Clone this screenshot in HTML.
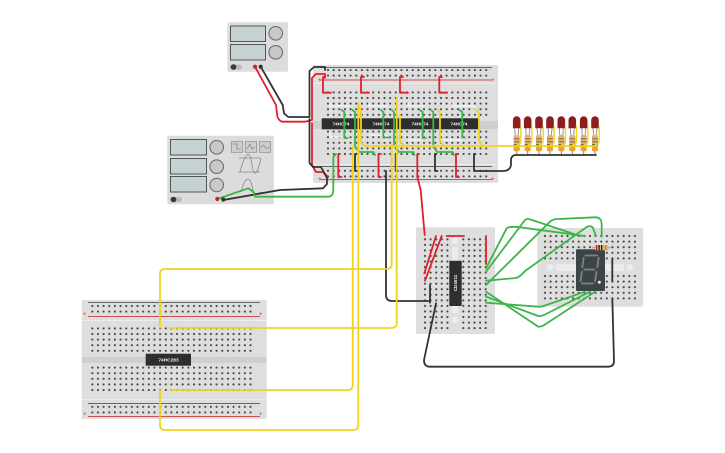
<!DOCTYPE html>
<html><head><meta charset="utf-8"><style>
html,body{margin:0;padding:0;background:#fff;width:725px;height:453px;overflow:hidden}
svg{display:block}
.w{fill:none;stroke-linejoin:round;stroke-linecap:round;stroke-width:1.8}
.r{stroke:#e0202a}.k{stroke:#333}.g{stroke:#3cb54a}.y{stroke:#f2d21b}.v{stroke:#f6f6f6;stroke-width:1.3}
.t{font-family:"Liberation Sans",sans-serif;fill:#eee;font-weight:bold;text-anchor:middle}
</style></head><body>
<svg width="725" height="453" viewBox="0 0 725 453" xmlns="http://www.w3.org/2000/svg">
<defs>
<pattern id="dm" x="325.2" y="67.2" width="5.65" height="5.6" patternUnits="userSpaceOnUse"><circle cx="2.8" cy="2.8" r="1.1" fill="#454545"/></pattern>
<pattern id="db" x="89.5" y="303.2" width="5.65" height="5.6" patternUnits="userSpaceOnUse"><circle cx="2.8" cy="2.8" r="1.1" fill="#454545"/></pattern>
<pattern id="da" x="422.2" y="236.5" width="5.6" height="5.55" patternUnits="userSpaceOnUse"><circle cx="2.8" cy="2.8" r="1.1" fill="#454545"/></pattern>
<pattern id="dc" x="460.5" y="236.5" width="5.6" height="5.55" patternUnits="userSpaceOnUse"><circle cx="2.8" cy="2.8" r="1.1" fill="#454545"/></pattern>
<pattern id="de" x="542.2" y="233.2" width="5.62" height="5.6" patternUnits="userSpaceOnUse"><circle cx="2.8" cy="2.8" r="1.1" fill="#454545"/></pattern>
<pattern id="df" x="542.2" y="273.2" width="5.62" height="5.6" patternUnits="userSpaceOnUse"><circle cx="2.8" cy="2.8" r="1.1" fill="#454545"/></pattern>
<symbol id="led" overflow="visible">
<path d="M-2 12L-1.5 19M2 12L1.5 19" stroke="#888" stroke-width=".9" fill="none"/>
<path d="M-3.8 12.2V4a3.8 3.8 0 0 1 7.6 0V12.2Z" fill="#8e1d20"/>
<rect x="-3" y="19" width="6" height="16" rx="1.8" fill="#d6b67a"/>
<rect x="-3" y="22" width="6" height="1.4" fill="#b5774a"/>
<rect x="-3" y="25" width="6" height="1.4" fill="#b5774a"/>
<rect x="-3" y="28.5" width="6" height="1.8" fill="#222"/>
<rect x="-3" y="31" width="6" height="4.2" rx="1.3" fill="#f0a030"/>
<path d="M0 35V39" stroke="#888" stroke-width="1"/>
<path d="M4.2 10V25Q4 29 0 29" stroke="#f2d21b" stroke-width="1.4" fill="none"/>
</symbol>
</defs>

<!-- Main breadboard -->
<rect x="313" y="65" width="185" height="118" rx="1.5" fill="#dedede"/>
<rect x="313" y="83" width="185" height="1" fill="#ececec"/>
<rect x="313" y="164" width="185" height="1" fill="#ececec"/>
<rect x="313" y="121" width="185" height="8" fill="#cfcfcf"/>
<rect x="320" y="67" width="172" height="1" fill="#666"/>
<rect x="320" y="79.5" width="172" height="1" fill="#c85050"/>
<rect x="320" y="166" width="172" height="1" fill="#666"/>
<rect x="320" y="179" width="172" height="1" fill="#c85050"/>
<rect x="325.2" y="67.2" width="163" height="11.2" fill="url(#dm)"/>
<rect x="325.2" y="89.6" width="163" height="28" fill="url(#dm)"/>
<rect x="325.2" y="128.8" width="163" height="28" fill="url(#dm)"/>
<rect x="325.2" y="168" width="163" height="11.2" fill="url(#dm)"/>
<text x="318" y="82" font-size="6" fill="#d33" font-family="Liberation Sans">+</text>
<text x="491" y="82" font-size="6" fill="#d33" font-family="Liberation Sans">+</text>
<text x="318" y="181" font-size="6" fill="#d33" font-family="Liberation Sans">+</text>
<text x="491" y="181" font-size="6" fill="#d33" font-family="Liberation Sans">+</text>

<!-- IC row -->
<rect x="321.7" y="118.3" width="156.6" height="11" fill="#2e2e2e"/>
<text class="t" x="341" y="125.6" font-size="4.6">74HC74</text>
<text class="t" x="381" y="125.6" font-size="4.6">74HC74</text>
<text class="t" x="420" y="125.6" font-size="4.6">74HC74</text>
<text class="t" x="459" y="125.6" font-size="4.6">74HC74</text>

<!-- Supply 1 -->
<rect x="227.3" y="22.3" width="60.7" height="49.4" rx="1.5" fill="#dcdcdc"/>
<rect x="230.5" y="26" width="35" height="15.5" fill="#c4d2d4" stroke="#555" stroke-width="1"/>
<rect x="230.5" y="44.5" width="35" height="15.5" fill="#c4d2d4" stroke="#555" stroke-width="1"/>
<circle cx="275.7" cy="33.3" r="6.8" fill="#c8c8c8" stroke="#666"/>
<circle cx="275.7" cy="52.3" r="6.8" fill="#c8c8c8" stroke="#666"/>
<rect x="230" y="64.5" width="12" height="5" rx="2.5" fill="#bbb"/><circle cx="233.5" cy="67" r="2.8" fill="#3a3a3a"/>

<!-- Function generator -->
<rect x="167.3" y="135.7" width="106.7" height="68.6" rx="1.5" fill="#dcdcdc"/>
<rect x="170.5" y="139.5" width="36" height="15.5" fill="#c4d2d4" stroke="#555" stroke-width="1"/>
<rect x="170.5" y="158.5" width="36" height="15.5" fill="#c4d2d4" stroke="#555" stroke-width="1"/>
<rect x="170.5" y="176.5" width="36" height="15.5" fill="#c4d2d4" stroke="#555" stroke-width="1"/>
<circle cx="216.7" cy="147.3" r="6.8" fill="#c8c8c8" stroke="#666"/>
<circle cx="216.7" cy="166.7" r="6.8" fill="#c8c8c8" stroke="#666"/>
<circle cx="216.7" cy="185" r="6.8" fill="#c8c8c8" stroke="#666"/>
<rect x="170" y="197" width="12" height="5" rx="2.5" fill="#bbb"/><circle cx="173.5" cy="199.5" r="2.8" fill="#3a3a3a"/>
<g fill="#cfcfcf" stroke="#888" stroke-width=".7">
<rect x="231.3" y="141.7" width="11.4" height="10.6"/><rect x="245.3" y="141.7" width="11.4" height="10.6"/><rect x="259.3" y="141.7" width="11.4" height="10.6"/></g>
<g fill="none" stroke="#888" stroke-width=".8">
<path d="M233 144H237V149H241"/><path d="M247 149L250 144L252 149L255 147"/><path d="M261 148Q263 143 265 147T269 146"/>
<path d="M239 158H260M238 172H260"/><path d="M240 172C246 150 250 150 252 165S258 172 261 158"/>
<path d="M241 192C245 176 250 176 252 186S256 194 262 192"/></g>

<!-- Mid breadboard -->
<rect x="416" y="227.3" width="79" height="106.7" rx="1.5" fill="#dedede"/>
<rect x="452" y="247" width="6" height="66" fill="#ebebeb"/>
<circle cx="455" cy="240.7" r="3.4" fill="#ececec"/><circle cx="455" cy="320" r="3.4" fill="#ececec"/>
<rect x="422.2" y="236.5" width="28" height="94.4" fill="url(#da)"/>
<rect x="460.5" y="236.5" width="28" height="94.4" fill="url(#dc)"/>
<rect x="449.3" y="260.7" width="12.4" height="45.3" rx="1" fill="#2e2e2e"/>
<text class="t" x="0" y="0" font-size="4.6" transform="translate(457,283) rotate(-90)">CD4511</text>

<!-- Right breadboard -->
<rect x="537.3" y="228" width="106" height="78.7" rx="1.5" fill="#dedede"/>
<rect x="556" y="264" width="68" height="7" fill="#ebebeb"/>
<circle cx="550" cy="267.3" r="3.4" fill="#ececec"/><circle cx="630" cy="267.3" r="3.4" fill="#ececec"/>
<rect x="542.2" y="233.2" width="95.5" height="28" fill="url(#de)"/>
<rect x="542.2" y="273.2" width="95.5" height="28" fill="url(#df)"/>
<!-- 7 seg -->
<rect x="576" y="249.3" width="29" height="41.7" rx="1" fill="#3c4448"/>
<g fill="none" stroke="#7b8387" stroke-width="1.8">
<path d="M584.5 255.5H598"/><path d="M583.5 269.5H595"/><path d="M581 283.5H593.5"/>
<path d="M583.8 257L582.2 268"/><path d="M598.8 257L597.2 268"/><path d="M582 271L580.4 282"/><path d="M596.6 271L595 282"/></g>
<circle cx="599.3" cy="282.3" r="1.5" fill="#eee"/>

<!-- Bottom breadboard -->
<rect x="81.7" y="300" width="185" height="119" rx="1.5" fill="#dedede"/>
<rect x="81.7" y="320" width="185" height="1" fill="#ececec"/>
<rect x="81.7" y="399" width="185" height="1" fill="#ececec"/>
<rect x="81.7" y="357" width="185" height="6" fill="#cfcfcf"/>
<rect x="88" y="302" width="172" height="1" fill="#666"/>
<rect x="88" y="316" width="172" height="1" fill="#c85050"/>
<rect x="88" y="403" width="172" height="1" fill="#666"/>
<rect x="88" y="416" width="172" height="1" fill="#c85050"/>
<rect x="89.5" y="303.2" width="164" height="11.2" fill="url(#db)"/>
<rect x="89.5" y="325.6" width="164" height="28" fill="url(#db)"/>
<rect x="89.5" y="364.8" width="164" height="28" fill="url(#db)"/>
<rect x="89.5" y="404" width="164" height="11.2" fill="url(#db)"/>
<text x="83" y="316" font-size="6" fill="#d33" font-family="Liberation Sans">+</text>
<text x="259" y="316" font-size="6" fill="#d33" font-family="Liberation Sans">+</text>
<text x="83" y="416" font-size="6" fill="#d33" font-family="Liberation Sans">+</text>
<text x="259" y="416" font-size="6" fill="#d33" font-family="Liberation Sans">+</text>
<rect x="145.7" y="353.7" width="45.3" height="12" fill="#2e2e2e"/>
<text class="t" x="168.5" y="361.5" font-size="4.8">74HC283</text>

<!-- LEDs -->
<use href="#led" x="516.7" y="116"/><use href="#led" x="527.7" y="116"/><use href="#led" x="539" y="116"/><use href="#led" x="550" y="116"/><use href="#led" x="561.3" y="116"/><use href="#led" x="572.3" y="116"/><use href="#led" x="583.7" y="116"/><use href="#led" x="595" y="116"/>

<!-- White jumpers -->
<g class="w v">
<path d="M330 103V106H350M369 103V106H387M408 103V106H424M453 103V106H475V110"/>
<path d="M330 132V137H341M369 135H386V141M408 140H420M444 140H462"/>
</g>

<!-- Red jumpers -->
<g class="w r">
<path d="M325 77H323V92.7H331"/><path d="M364 77H361V92.7H369"/><path d="M403 77H400V92.7H408"/><path d="M442 77H439.3V92.7H447"/>
<path d="M340 154H338.3V177H341.5"/><path d="M381 154H378.5V177H381"/><path d="M456.5 154H456V177H459"/>
<path d="M419 154H417.3V177L420.7 190L424.7 235"/>
<path d="M325 78V74H316L312 78V120L305 121.7H282Q278 120 277.3 116L276 105L255 66.7"/>
<path d="M312 123V165L316 172H323L328 177"/>
<path d="M425 280.7L441.7 236M424.3 273.3L436 236M446.7 236H464M486 236V264"/>
</g>

<!-- Black jumpers -->
<g class="w k">
<path d="M325 70V67H314L309.5 71V117H288.3L284 113.3L282.7 105L260.7 66.7"/>
<path d="M309.5 119V163L313 167H321L327 178V184L323 188.3L280 190L223.3 200"/>
<path d="M356.5 154H355V171H357M397 154H395.7V171H398M436.5 154H435V171H437.5"/>
<path d="M475.5 154H474V171H503Q510 171 511 165V159Q512 155 516 155H596"/>
<path d="M386 171V295Q386 301 392 301H429"/>
<path d="M430 285V302.7M436 303.3L424 360Q424 366.7 430 366.7H608Q614 366.7 614 361L612.3 298.3M612.3 258.3V280.7"/>
</g>

<!-- Green jumpers -->
<g class="w g">
<path d="M217.3 199L248.3 188.3L253.3 191.7L255 196.7H328Q333 196.7 333.3 190V157L336 154"/>
<path d="M341.7 110L344.3 112V138H347.7M381 110L383.3 112V137.5H390M420 110L422.7 112V138H426M459.3 110L462.3 112V137.5H465"/>
<path d="M352.3 110L355 112V146.7L359.3 152H373.3L375 155M391.7 110L394 112V145L399 152H413.3L414.3 155M431 110L433.3 112V146.7L437.3 152H452.7L454 155"/>
<path d="M486 268.3L506.7 228.3Q510 226 520 227.3L585 236"/>
<path d="M486 271.7L525 220Q527 218 532 220L580 236"/>
<path d="M486 280.7L516 278Q520 277 525 271L586.7 227Q591 225 593 228L596 236"/>
<path d="M486 285L550 221.7Q553 219 558 219L595 217.3Q601.7 217 601.7 225V236.7"/>
<path d="M486 291.7L538.3 326.7Q541 327 545 324.5L595 291.7"/>
<path d="M486 296.7L538.3 316Q541 316.5 545 314.5L590 291.7"/>
<path d="M486 302.7L538.3 306.7Q541 307 545 305.5L585 291.7"/>
</g>

<!-- Yellow jumpers -->
<g class="w y">
<path d="M352.7 147V385Q352.7 390 348 390H170"/>
<path d="M358.3 103V425Q358.3 430 353 430H165Q160 430 160 425V390"/>
<path d="M396.7 98V323Q396.7 328 391 328H170"/>
<path d="M391.7 145V264Q391.7 269 386 269H165Q160 269 160 274V328"/>
<path d="M359 106Q361 108 361 112V141Q362 146 367 146H597"/>
<path d="M400 115V141L404 146M438 110L440 113V141L444 146M476.7 110L479 113V141L483 146"/>
</g>

<!-- Resistor on right board -->
<path d="M592 247.7H611" stroke="#999" stroke-width="1"/>
<rect x="594.5" y="245" width="14" height="5.4" rx="2" fill="#d9b77c"/>
<rect x="596" y="245" width="1.3" height="5.4" fill="#c22"/><rect x="598.5" y="245" width="1.3" height="5.4" fill="#222"/><rect x="601" y="245" width="1.3" height="5.4" fill="#222"/><rect x="605" y="245" width="1.3" height="5.4" fill="#c90"/>

<!-- Terminals -->
<circle cx="255" cy="66.7" r="2.1" fill="#c22"/><circle cx="260.7" cy="66.7" r="2.1" fill="#333"/>
<circle cx="217.3" cy="199" r="2.1" fill="#c22"/><circle cx="223.3" cy="199.5" r="2.1" fill="#333"/>
</svg>
</body></html>
